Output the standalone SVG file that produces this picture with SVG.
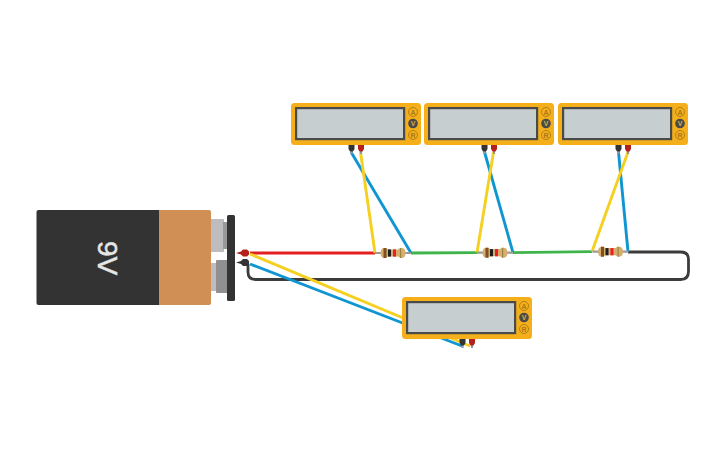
<svg xmlns="http://www.w3.org/2000/svg" width="725" height="453" viewBox="0 0 725 453">
<style>
.w{fill:none;stroke-width:2.900;stroke-linecap:butt}
.blue{stroke:#0f96d2}.yellow{stroke:#f5d020}.red{stroke:#e3201f}.green{stroke:#3fb44a}
.body{fill:#f4af1b}.screen{fill:#c6ced0;stroke:#4a4a48;stroke-width:2.200}
.ring{fill:none;stroke:#a9791a;stroke-width:.9}
.dial{font:700 7px "Liberation Sans",sans-serif;text-anchor:middle;fill:#a9791a}
.dialon{font:700 7px "Liberation Sans",sans-serif;text-anchor:middle;fill:#d9b04a}
</style>
<defs>
<g id="meter">
<rect width="130" height="42" rx="3.500" class="body"/>
<rect x="5.100" y="5.100" width="108" height="31" class="screen"/>
<circle cx="122" cy="9" r="4.500" class="ring"/>
<text x="122" y="11.500" class="dial">A</text>
<circle cx="122" cy="20.500" r="4.800" fill="#4a4a48"/>
<text x="122" y="23" class="dialon">V</text>
<circle cx="122" cy="32" r="4.500" class="ring"/>
<text x="122" y="34.500" class="dial">R</text>
<path d="M59.400 47h2.200v4h-2.200zM68.900 47h2.200v4h-2.200z" fill="#8f9aa0"/>
<path d="M57.500 42h6v4l-1.500 2.500h-3l-1.500-2.500z" fill="#333"/>
<path d="M67 42h6v4l-1.500 2.500h-3l-1.500-2.500z" fill="#b5201a"/>
</g>
<g id="resistor">
<path d="M-18 0h36" stroke="#9a9a9a" stroke-width="2.200"/>
<path d="M-8.500 -5q2.500 0 3.500 1.400h10q1 -1.400 3.500 -1.400q4 0 4 5t-4 5q-2.500 0 -3.500 -1.400h-10q-1 1.400 -3.500 1.400q-4 0 -4 -5t4 -5z" fill="#d7ae6e"/>
<rect x="-9.500" y="-5" width="3" height="10" fill="#7f4f22"/>
<rect x="-5" y="-3.600" width="3" height="7.200" fill="#1e1e1e"/>
<rect x="0" y="-3.600" width="3" height="7.200" fill="#ee1c25"/>
<rect x="7" y="-5" width="1.200" height="10" fill="#9a8444"/>
</g>
</defs>

<g id="connectors">
<path d="M248 264v8q0 7.500 7.500 7.500h425q8 0 8-8v-12q0-7.500-8-7.500H628" fill="none" stroke="#3c3c3c" stroke-width="2.800"/>
<path class="w red" d="M250 253H375"/>
<path class="w green" d="M411 253L477 252.600"/>
<path class="w green" d="M513 252.600L592 251.600"/>
<path class="w yellow" d="M250 254L470 346"/>
<path class="w blue" d="M250 264L462 346"/>
<path class="w blue" d="M351 152L411 253"/>
<path class="w yellow" d="M360.500 152L375 253"/>
<path class="w blue" d="M484.500 152L513 252.600"/>
<path class="w yellow" d="M493.500 152L477 252.600"/>
<path class="w blue" d="M618.500 152L628 251.600"/>
<path class="w yellow" d="M628 152L592 251.600"/>
</g>

<g id="battery">
<rect x="211" y="219" width="13" height="33" fill="#bdbdbd"/>
<rect x="223" y="222" width="5" height="27" fill="#999"/>
<rect x="211" y="263" width="13" height="28" fill="#bdbdbd"/>
<rect x="216" y="260" width="12" height="33" rx="1" fill="#909090"/>
<path d="M159 210H209q2 0 2 2V303q0 2-2 2H159z" fill="#d08f54"/>
<path d="M159 210H38.500q-2 0-2 2V303q0 2 2 2H159z" fill="#333"/>
<rect x="227" y="215" width="8" height="86" rx="1.500" fill="#333"/>
<text transform="translate(97.500,258) rotate(90)" font-family="'Liberation Sans',sans-serif" font-size="28" fill="#e6e6e6" stroke="#e6e6e6" stroke-width=".5" text-anchor="middle">9V</text>
<path d="M236 253l5-1.500 2-2h4l2 2v3l-2 2h-4l-2-2z" fill="#b5201a"/>
<path d="M236 262.500l5-1.500 2-2h4l2 2v3l-2 2h-4l-2-2z" fill="#333"/>
</g>

<g id="resistor1"><use href="#resistor" transform="translate(393,253)"/></g>
<g id="resistor2"><use href="#resistor" transform="translate(495,252.700)"/></g>
<g id="resistor3"><use href="#resistor" transform="translate(610.500,251.700)"/></g>

<g id="meter1"><use href="#meter" transform="translate(291,103)"/></g>
<g id="meter2"><use href="#meter" transform="translate(424,103)"/></g>
<g id="meter3"><use href="#meter" transform="translate(558,103)"/></g>
<g id="meter4"><use href="#meter" transform="translate(402,297)"/></g>
</svg>
